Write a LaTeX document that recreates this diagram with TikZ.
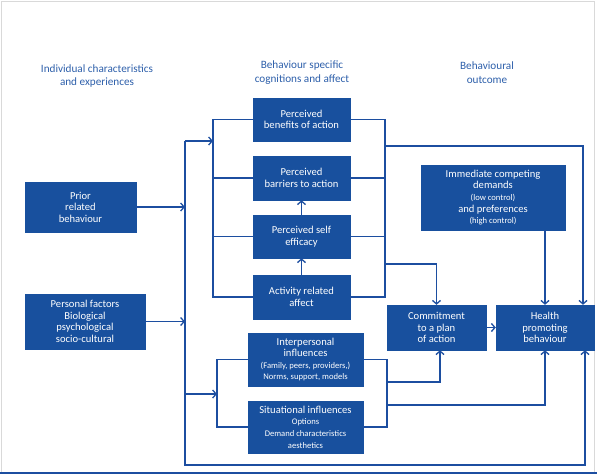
\documentclass[tikz,border=0pt]{standalone}
\usepackage{fontspec}
\setmainfont{Carlito}
\usetikzlibrary{arrows.meta,positioning}
\definecolor{boxblue}{RGB}{24,80,158}
\definecolor{lineblue}{RGB}{28,78,160}
\definecolor{ttlblue}{RGB}{45,95,170}
\newcommand{\smtxt}[1]{{\fontsize{8.6}{10}\selectfont #1}}

\begin{document}
\begin{tikzpicture}[x=1pt,y=-1pt,>={Straight Barb[length=3.5pt,width=8pt]},every node/.append style={align=center},blk/.style={fill=boxblue, draw=boxblue, text=white, inner sep=1pt, font=\fontsize{10.6}{11.6}\selectfont},ttl/.style={text=ttlblue, font=\fontsize{11.2}{13.5}\selectfont},ln/.style={draw=lineblue, line width=1.3pt},]
    \useasboundingbox (0,0) rectangle (597,475);
    \draw[black!15] (1,1) rectangle (594,472);
    \draw[lineblue, line width=1.6pt] (0,473) -- (597,473);
    % column titles
    \node [ttl] (t1) at (97,76)    {Individual characteristics\\and experiences};
    \node [ttl] (t2) at (302,72.5) {Behaviour specific\\cognitions and affect};
    \node [ttl] (t3) at (487,72.5) {Behavioural\\outcome};
    % boxes
    \node [blk, minimum width=111pt, minimum height=50pt] (prior)    at (80.5,207)   {Prior\\related\\behaviour};
    \node [blk, minimum width=120pt, minimum height=55pt] (personal) at (85,321.5)   {Personal factors\\Biological\\psychological\\socio-cultural};
    \node [blk, minimum width=97pt, minimum height=43pt]  (benefits) at (301.5,119.5) {Perceived\\benefits of action};
    \node [blk, minimum width=97pt, minimum height=44pt]  (barriers) at (301.5,178)  {Perceived\\barriers to action};
    \node [blk, minimum width=97pt, minimum height=43pt]  (efficacy) at (301.5,236.5) {Perceived self\\efficacy};
    \node [blk, minimum width=97pt, minimum height=44pt]  (affect)   at (301.5,297)  {Activity related\\affect};
    \node [blk, minimum width=115pt, minimum height=53pt] (inter)    at (305.5,359.5) {Interpersonal\\influences\\\smtxt{(Family, peers, providers,)}\\\smtxt{Norms, support, models}};
    \node [blk, minimum width=115pt, minimum height=52pt] (situ)     at (305.5,427)  {Situational influences\\\smtxt{Options}\\\smtxt{Demand characteristics}\\\smtxt{aesthetics}};
    \node [blk, minimum width=144pt, minimum height=65pt] (immediate) at (493,197.5) {Immediate competing\\demands\\\smtxt{(low control)}\\and preferences\\\smtxt{(high control)}};
    \node [blk, minimum width=99pt, minimum height=45pt]  (commit)   at (436.5,327.5) {Commitment\\to a plan\\of action};
    \node [blk, minimum width=98pt, minimum height=45pt]  (health)   at (545,327.5)  {Health\\promoting\\behaviour};
    % junction points
    \coordinate (busT) at (185,141);
    \coordinate (busB) at (185,465);
    \coordinate (hR)   at (585,465);
    \coordinate (topL) at (213,119.5);
    \coordinate (botL) at (213,297);
    \coordinate (topR) at (385,119.5);
    \coordinate (botR) at (385,297);
    \coordinate (lowL) at (217,394);
    \coordinate (lowR) at (387,394);
    \coordinate (outA) at (385,146);
    \coordinate (hN)   at (583,146);
    \coordinate (outB) at (385,264);
    \coordinate (outC) at (387,382);
    \coordinate (outD) at (387,405);
    % inputs into the bus
    \draw[ln,->] (prior.east) -- (prior.east -| busT);
    \draw[ln,->] (personal.east) -- (personal.east -| busT);
    \draw[ln,->] (busT) -- (busB) -- (hR) -- (hR |- health.south);
    \draw[ln,->] (busT) -- (busT -| topL);
    \draw[ln,->] (lowL -| busT) -- (lowL);
    % upper brackets
    \draw[ln] (benefits.west) -- (topL) -- (botL) -- (affect.west);
    \draw[ln] (barriers.west) -- (barriers.west -| topL);
    \draw[ln] (efficacy.west) -- (efficacy.west -| topL);
    \draw[ln] (benefits.east) -- (topR) -- (botR) -- (affect.east);
    \draw[ln] (barriers.east) -- (barriers.east -| topR);
    \draw[ln] (efficacy.east) -- (efficacy.east -| topR);
    \draw[ln,->] (affect.north) -- (efficacy.south);
    \draw[ln,->] (efficacy.north) -- (barriers.south);
    % lower brackets
    \draw[ln] (inter.west) -| (lowL |- situ.west) -- (situ.west);
    \draw[ln] (inter.east) -| (lowR |- situ.east) -- (situ.east);
    % outputs
    \draw[ln,->] (outA) -- (hN) -- (hN |- health.north);
    \draw[ln,->] (outB) -| (commit.north);
    \draw[ln,->] (outC) -| ([xshift=3.5pt]commit.south);
    \draw[ln,->] (outD) -| (health.south);
    \draw[ln,->] (health.north |- immediate.south) -- (health.north);
    \draw[ln,->] (commit.east) -- (health.west);
\end{tikzpicture}
\end{document}
